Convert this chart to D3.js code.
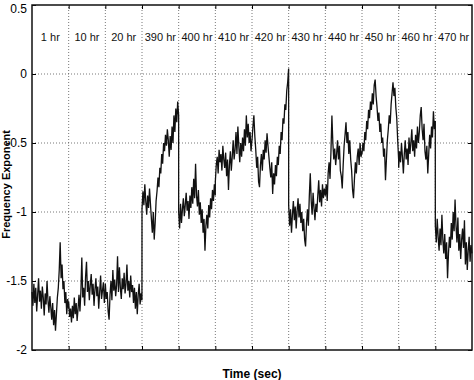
<!DOCTYPE html>
<html>
<head>
<meta charset="utf-8">
<script src="https://cdn.jsdelivr.net/npm/d3@7"></script>
<style>
  body { margin: 0; background: #fff; }
  text { font-family: "Liberation Sans", Arial, sans-serif; }
</style>
</head>
<body>
<script>
var w = 474;
var h = 380;
var margin = {left: 32, right: 2, top: 5, bottom: 30};

// segment labels (one per recording)
var segments = ["1 hr", "10 hr", "20 hr", "390 hr", "400 hr", "410 hr", "420 hr",
    "430 hr", "440 hr", "450 hr", "460 hr", "470 hr"];

var yTicks = [-2, -1.5, -1, -0.5, 0, 0.5];

// frequency exponent traces
var s1hr = [-1.58,-1.68,-1.52,-1.66,-1.55,-1.72,-1.60,-1.48,-1.65,-1.57,
    -1.70,-1.54,-1.62,-1.75,-1.59,-1.67,-1.50,-1.64,-1.73,-1.61,
    -1.69,-1.78,-1.66,-1.82,-1.71,-1.86,-1.74,-1.62,-1.55,-1.42,
    -1.22,-1.48,-1.38,-1.56,-1.50,-1.66,-1.58,-1.74,-1.63,-1.70];
var s10hr = [-1.65,-1.76,-1.70,-1.80,-1.68,-1.77,-1.62,-1.74,-1.66,-1.79,
    -1.70,-1.60,-1.72,-1.58,-1.33,-1.62,-1.55,-1.68,-1.47,-1.36,
    -1.58,-1.50,-1.64,-1.53,-1.45,-1.60,-1.52,-1.68,-1.56,-1.48,
    -1.61,-1.54,-1.70,-1.58,-1.46,-1.63,-1.57,-1.51,-1.66,-1.55];
var s20hr = [-1.52,-1.63,-1.58,-1.72,-1.78,-1.60,-1.50,-1.64,-1.42,-1.57,
    -1.49,-1.61,-1.53,-1.32,-1.58,-1.40,-1.55,-1.63,-1.48,-1.56,
    -1.44,-1.59,-1.52,-1.38,-1.57,-1.50,-1.62,-1.46,-1.58,-1.53,
    -1.66,-1.55,-1.70,-1.58,-1.74,-1.60,-1.52,-1.67,-1.59,-1.64];
var s390hr = [-0.98,-0.85,-0.95,-0.80,-0.92,-1.02,-0.88,-0.97,-0.83,-0.94,
    -1.05,-1.15,-1.00,-1.20,-1.08,-0.92,-0.85,-0.75,-0.82,-0.68,
    -0.72,-0.58,-0.65,-0.50,-0.56,-0.44,-0.52,-0.40,-0.48,-0.60,
    -0.45,-0.55,-0.38,-0.50,-0.30,-0.42,-0.25,-0.35,-0.20,-0.30];
var s400hr = [-1.00,-1.12,-0.94,-1.08,-0.98,-0.90,-1.03,-0.95,-0.86,-0.99,
    -0.92,-1.05,-0.88,-0.97,-0.82,-0.94,-0.76,-0.90,-0.65,-0.88,
    -0.96,-0.84,-1.02,-0.93,-1.08,-0.98,-1.15,-1.05,-1.28,-1.10,
    -1.02,-1.12,-0.95,-1.04,-0.90,-0.98,-0.84,-0.92,-0.80,-0.88];
var s410hr = [-0.78,-0.66,-0.60,-0.72,-0.55,-0.64,-0.58,-0.70,-0.52,-0.62,
    -0.68,-0.57,-0.74,-0.62,-0.84,-0.66,-0.56,-0.70,-0.60,-0.48,
    -0.62,-0.55,-0.42,-0.58,-0.38,-0.52,-0.64,-0.50,-0.60,-0.46,
    -0.56,-0.40,-0.52,-0.30,-0.46,-0.36,-0.50,-0.42,-0.56,-0.48];
var s420hr = [-0.48,-0.38,-0.30,-0.45,-0.55,-0.68,-0.60,-0.78,-0.82,-0.66,
    -0.58,-0.70,-0.55,-0.62,-0.48,-0.57,-0.43,-0.52,-0.60,-0.68,
    -0.75,-0.64,-0.87,-0.72,-0.80,-0.66,-0.74,-0.60,-0.66,-0.52,
    -0.58,-0.42,-0.48,-0.32,-0.36,-0.22,-0.26,-0.12,-0.06,0.04];
var s430hr = [-0.95,-1.10,-0.98,-1.15,-1.02,-0.92,-1.06,-0.96,-1.12,-0.99,
    -0.90,-1.04,-0.94,-1.08,-1.00,-1.14,-1.05,-1.20,-1.25,-1.08,
    -0.98,-1.10,-0.88,-0.72,-0.92,-1.02,-0.86,-0.97,-1.06,-0.94,
    -1.00,-0.88,-0.77,-0.93,-0.84,-0.96,-0.80,-0.90,-0.83,-0.88];
var s440hr = [-0.88,-0.80,-0.92,-0.72,-0.64,-0.76,-0.56,-0.30,-0.50,-0.62,
    -0.54,-0.66,-0.58,-0.48,-0.62,-0.52,-0.70,-0.74,-0.83,-0.66,
    -0.52,-0.44,-0.35,-0.50,-0.42,-0.58,-0.48,-0.62,-0.70,-0.84,
    -0.90,-0.76,-0.64,-0.72,-0.60,-0.54,-0.66,-0.50,-0.60,-0.56];
var s450hr = [-0.58,-0.50,-0.56,-0.42,-0.48,-0.34,-0.40,-0.26,-0.32,-0.20,
    -0.26,-0.14,-0.22,-0.08,-0.04,-0.16,-0.24,-0.34,-0.28,-0.42,
    -0.36,-0.50,-0.46,-0.60,-0.54,-0.77,-0.62,-0.48,-0.40,-0.30,
    -0.36,-0.22,-0.14,-0.06,-0.16,-0.10,-0.24,-0.32,-0.48,-0.62];
var s460hr = [-0.68,-0.56,-0.64,-0.50,-0.60,-0.72,-0.58,-0.48,-0.62,-0.54,
    -0.66,-0.46,-0.58,-0.50,-0.40,-0.56,-0.48,-0.60,-0.44,-0.54,
    -0.38,-0.50,-0.42,-0.30,-0.24,-0.40,-0.48,-0.36,-0.56,-0.62,
    -0.52,-0.72,-0.58,-0.44,-0.54,-0.38,-0.46,-0.27,-0.40,-0.34];
var s470hr = [-1.10,-1.22,-1.05,-1.18,-1.28,-1.12,-1.24,-1.02,-1.20,-1.30,
    -1.16,-1.34,-1.22,-1.48,-1.30,-1.18,-1.26,-1.08,-1.20,-1.00,
    -1.14,-0.91,-1.10,-1.22,-1.04,-1.28,-1.16,-1.34,-1.20,-1.12,
    -1.26,-1.06,-1.38,-1.22,-1.42,-1.28,-1.18,-1.36,-1.24,-1.30];

var traces = [s1hr, s10hr, s20hr, s390hr, s400hr, s410hr, s420hr,
    s430hr, s440hr, s450hr, s460hr, s470hr];

// flatten into [position, value] where position = segment index + fraction
var points = [];
traces.forEach((arr, i) => {
    arr.forEach((v, j) => {
        points.push([i + j / (arr.length - 1) * 0.999, v]);
    });
});

var svg = d3.select("body").append("svg").attr("width", w).attr("height", h);

var xScale = d3.scaleLinear()
    .domain([0, segments.length])
    .range([margin.left, w - margin.right]);

var yScale = d3.scaleLinear()
    .domain([-2, 0.5])
    .range([h - margin.bottom, margin.top]);

var innerTicks = d3.range(1, segments.length);

// dotted grid
svg.append("g").selectAll("line.vg")
    .data(innerTicks).enter()
    .append("line")
    .attr("x1", d => xScale(d)).attr("x2", d => xScale(d))
    .attr("y1", yScale(-2)).attr("y2", yScale(0.5))
    .attr("stroke", "#555").attr("stroke-width", 0.8)
    .attr("stroke-dasharray", "1,2");

svg.append("g").selectAll("line.hg")
    .data(yTicks.slice(1, -1)).enter()
    .append("line")
    .attr("x1", xScale(0)).attr("x2", xScale(segments.length))
    .attr("y1", d => yScale(d)).attr("y2", d => yScale(d))
    .attr("stroke", "#555").attr("stroke-width", 0.8)
    .attr("stroke-dasharray", "1,2");

// the trace
var line = d3.line()
    .x(d => xScale(d[0]))
    .y(d => yScale(d[1]));

svg.append("path")
    .datum(points)
    .attr("d", line)
    .attr("fill", "none")
    .attr("stroke", "#111")
    .attr("stroke-width", 1.3)
    .attr("stroke-linejoin", "bevel");

// axes with inward ticks (matlab style)
var yAxis = d3.axisLeft(yScale)
    .tickValues(yTicks)
    .tickSize(-4)
    .tickPadding(5)
    .tickFormat(d => String(d));

svg.append("g")
    .attr("transform", "translate(" + margin.left + ",0)")
    .call(yAxis)
    .call(g => g.select(".domain").remove())
    .selectAll("text")
    .attr("font-size", "12px")
    .attr("font-family", "Liberation Sans, Arial, sans-serif")
    .attr("dy", d => d === 0.5 ? "0.6em" : "0.32em"); // keep top label inside the page

svg.append("g")
    .attr("transform", "translate(" + (w - margin.right) + ",0)")
    .call(d3.axisRight(yScale).tickValues(yTicks).tickSize(-4).tickFormat(""))
    .call(g => g.select(".domain").remove());

svg.append("g")
    .attr("transform", "translate(0," + (h - margin.bottom) + ")")
    .call(d3.axisBottom(xScale).tickValues(innerTicks).tickSize(-4).tickFormat(""))
    .call(g => g.select(".domain").remove());

svg.append("g")
    .attr("transform", "translate(0," + margin.top + ")")
    .call(d3.axisTop(xScale).tickValues(innerTicks).tickSize(-4).tickFormat(""))
    .call(g => g.select(".domain").remove());

// box
svg.append("rect")
    .attr("x", xScale(0)).attr("y", yScale(0.5))
    .attr("width", xScale(segments.length) - xScale(0))
    .attr("height", yScale(-2) - yScale(0.5))
    .attr("fill", "none")
    .attr("stroke", "#111")
    .attr("stroke-width", 1.5);

// segment labels
svg.selectAll("text.seg")
    .data(segments).enter()
    .append("text")
    .attr("class", "seg")
    .attr("x", (d, i) => xScale(i + 0.5))
    .attr("y", 41)
    .attr("text-anchor", "middle")
    .attr("font-size", "11px")
    .attr("fill", "#111")
    .text(d => d);

// axis titles
svg.append("text")
    .attr("x", (xScale(0) + xScale(segments.length)) / 2)
    .attr("y", 378)
    .attr("text-anchor", "middle")
    .attr("font-size", "12px")
    .attr("font-weight", "bold")
    .text("Time (sec)");

svg.append("text")
    .attr("transform", "translate(10," + yScale(-0.8) + ") rotate(-90)")
    .attr("text-anchor", "middle")
    .attr("font-size", "11px")
    .attr("font-weight", "bold")
    .text("Frequency Exponent");
</script>
</body>
</html>
